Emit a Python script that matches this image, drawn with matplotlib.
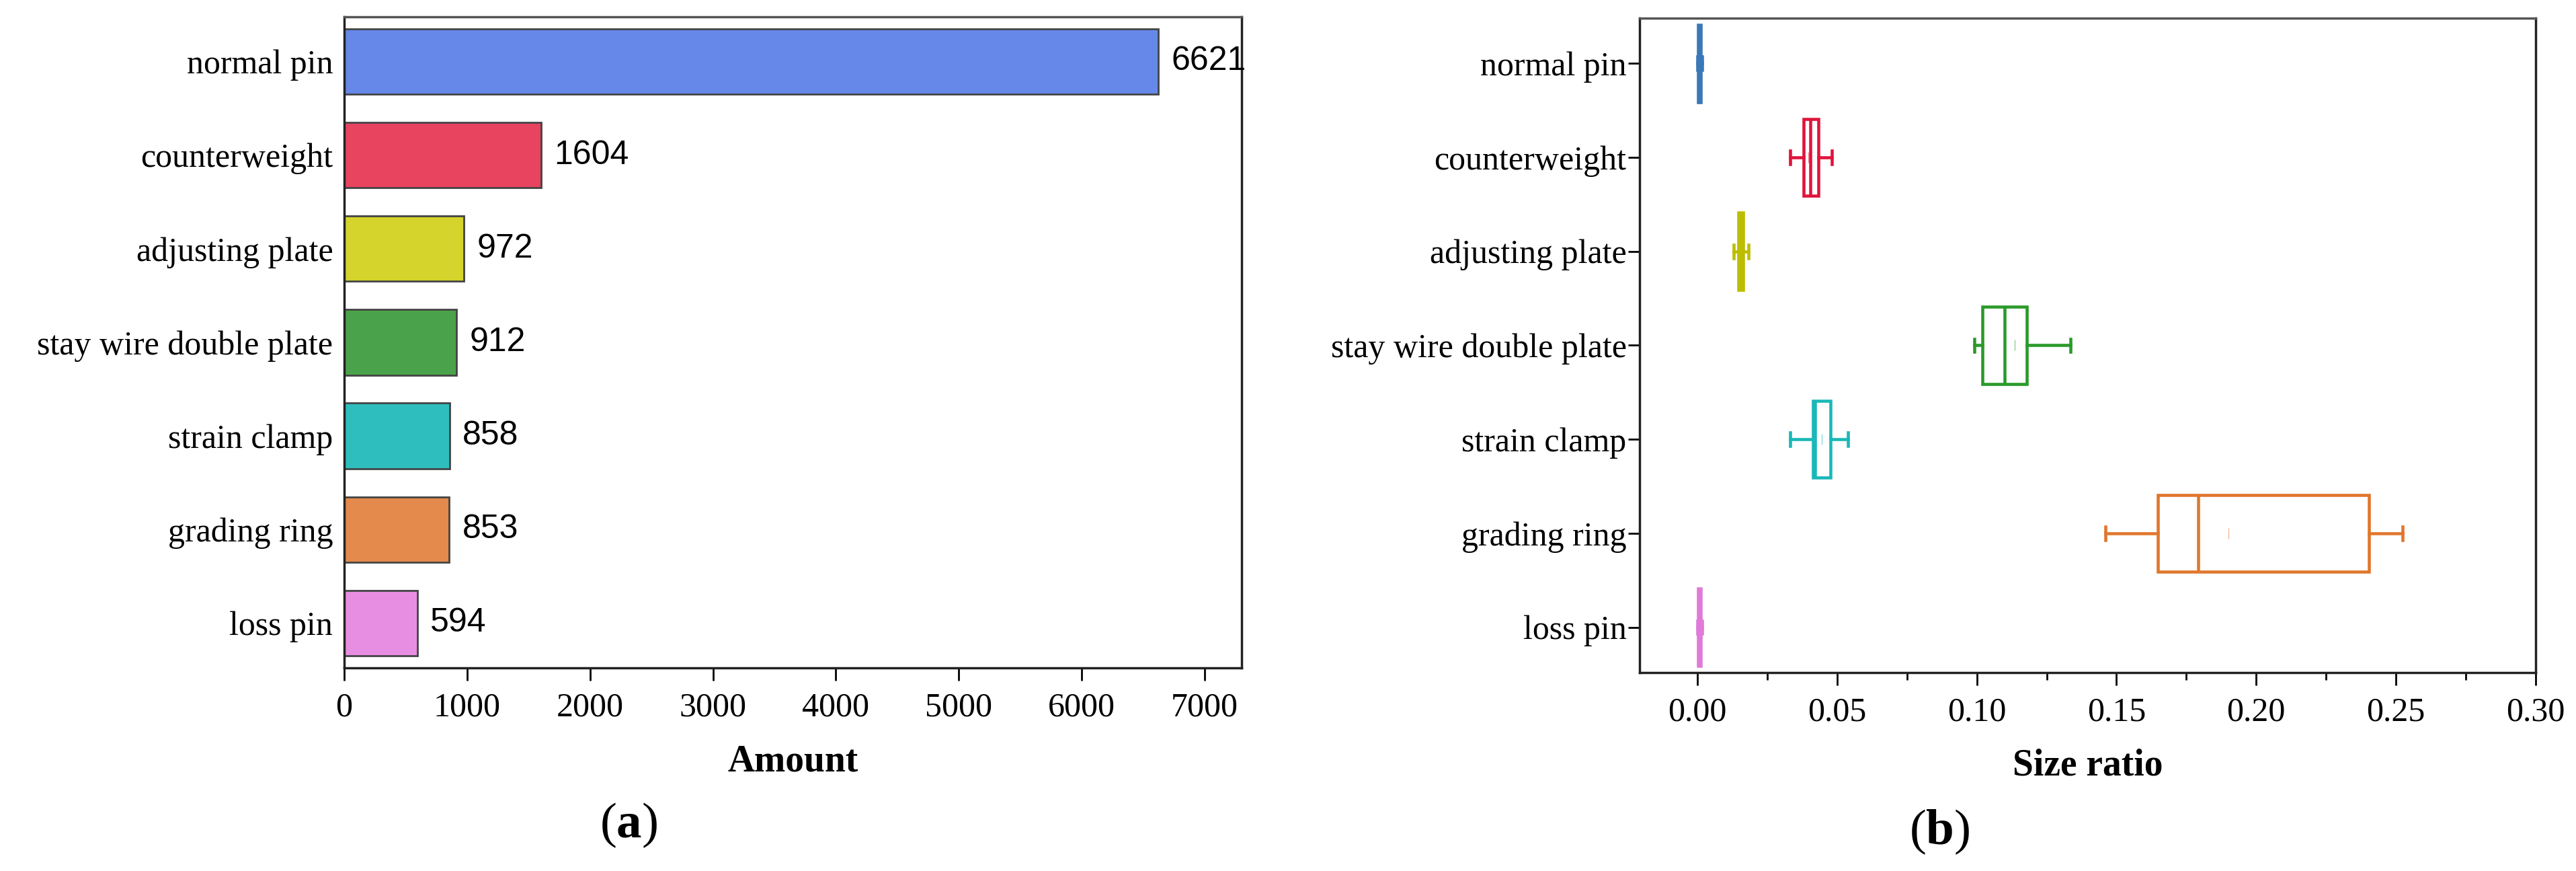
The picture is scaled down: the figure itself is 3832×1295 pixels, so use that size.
import matplotlib
matplotlib.use('Agg')
import matplotlib.pyplot as plt
from matplotlib.ticker import MultipleLocator

plt.rcParams['font.family'] = 'Liberation Serif'
plt.rcParams['mathtext.fontset'] = 'custom'
plt.rcParams['mathtext.rm'] = 'Liberation Serif'
plt.rcParams['mathtext.bf'] = 'Liberation Serif:bold'

# data
categories = ['normal pin', 'counterweight', 'adjusting plate', 'stay wire double plate',
              'strain clamp', 'grading ring', 'loss pin']
amounts = [6621, 1604, 972, 912, 858, 853, 594]

# size ratio box stats
whis_lo = [0.0000, 0.0332, 0.0130, 0.0990, 0.0332, 0.1460, 0.0000]
q1 = [0.0003, 0.0380, 0.0146, 0.1020, 0.0413, 0.1648, 0.0003]
medians = [0.0007, 0.0404, 0.0155, 0.1100, 0.0422, 0.1792, 0.0007]
q3 = [0.0013, 0.0433, 0.0164, 0.1180, 0.0476, 0.2403, 0.0013]
whis_hi = [0.0016, 0.0480, 0.0182, 0.1336, 0.0539, 0.2523, 0.0016]
means = [0.0008, 0.0396, 0.0156, 0.1135, 0.0445, 0.1900, 0.0008]

bar_colors = ['#6688e8', '#e8435f', '#d4d42c', '#4aa34a', '#2ebebe', '#e38a4c', '#e88ee2']
box_colors = ['#3a78b8', '#e0143c', '#bdbd00', '#2a9a2a', '#1ab8b8', '#e0772e', '#e07ad8']

fig = plt.figure(figsize=(38.32, 12.95), dpi=100)
ax1 = fig.add_axes([0.1336, 0.233, 0.3484, 0.748])
ax2 = fig.add_axes([0.6365, 0.228, 0.3478, 0.751])

pos = list(range(len(categories)))

# (a) amount per category
bars = ax1.barh(pos, amounts, height=0.7, color=bar_colors, edgecolor='#444444', linewidth=2)
ax1.bar_label(bars, labels=[str(a) for a in amounts], padding=14,
              fontsize=36, family='Liberation Sans')
ax1.set_yticks(pos)
ax1.set_yticklabels(categories)
ax1.set_ylim(6.48, -0.48)
ax1.set_xlim(0, 7300)
ax1.set_xticks(range(0, 8000, 1000))
ax1.tick_params(axis='y', length=0, labelsize=36, pad=12)
ax1.tick_params(axis='x', length=14, width=2, labelsize=36, pad=12, direction='out')
ax1.set_xlabel('Amount', fontsize=40, fontweight='bold', labelpad=22)

# (b) size ratio
stats = []
for i in range(len(categories)):
    stats.append({'whislo': whis_lo[i], 'q1': q1[i], 'med': medians[i], 'q3': q3[i],
                  'whishi': whis_hi[i], 'mean': means[i], 'fliers': [], 'label': categories[i]})
bp = ax2.bxp(stats, positions=pos, vert=False, widths=0.82, showmeans=True,
             patch_artist=True, showfliers=False)
lw = 3.3
for i, c in enumerate(box_colors):
    bp['boxes'][i].set(facecolor='white', edgecolor=c, linewidth=lw)
    bp['medians'][i].set(color=c, linewidth=lw)
    bp['means'][i].set(marker='|', markeredgecolor=c, markersize=12, markeredgewidth=1, alpha=0.5)
    for w in bp['whiskers'][2 * i:2 * i + 2]:
        w.set(color=c, linewidth=lw)
    for cp in bp['caps'][2 * i:2 * i + 2]:
        cp.set(color=c, linewidth=lw)
        y = cp.get_ydata()
        m = (y[0] + y[1]) / 2
        cp.set_ydata([m - 0.07, m + 0.07])

ax2.set_yticks(pos)
ax2.set_yticklabels(categories)
ax2.set_ylim(6.48, -0.48)
ax2.set_xlim(-0.0207, 0.30)
ax2.xaxis.set_minor_locator(MultipleLocator(0.025))
ax2.set_xticks([0, 0.05, 0.10, 0.15, 0.20, 0.25, 0.30])
ax2.set_xticklabels(['0.00', '0.05', '0.10', '0.15', '0.20', '0.25', '0.30'])
ax2.tick_params(axis='y', length=12, width=2, labelsize=36, pad=2)
ax2.tick_params(axis='x', which='major', length=14, width=2, labelsize=36, pad=12)
ax2.tick_params(axis='x', which='minor', length=8, width=2)
ax2.set_xlabel('Size ratio', fontsize=40, fontweight='bold', labelpad=22)

for ax in (ax1, ax2):
    for s in ax.spines.values():
        s.set_linewidth(2.5)
        s.set_color('#222222')
    ax.spines['top'].set_color('#555555')

fig.text(0.244, 0.052, r'($\mathbf{a}$)', fontsize=54, ha='center', va='center')
fig.text(0.753, 0.045, r'($\mathbf{b}$)', fontsize=54, ha='center', va='center')

fig.savefig('out.png', dpi=100)
